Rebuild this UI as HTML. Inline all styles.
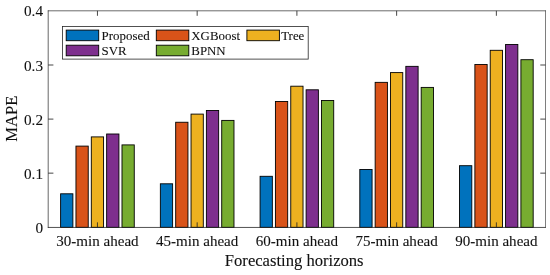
<!DOCTYPE html><html><head><meta charset="utf-8"><title>chart</title><style>html,body{margin:0;padding:0;background:#fff}svg{display:block}text{font-family:"Liberation Serif","DejaVu Serif",serif;fill:#111;stroke:#111;stroke-width:0.1px}</style></head><body>
<svg width="550" height="275" viewBox="0 0 550 275">
<rect width="550" height="275" fill="#fff"/>
<rect x="60.62" y="193.80" width="12.27" height="33.55" fill="#0072BD" stroke="#000" stroke-width="0.9"/>
<rect x="75.96" y="146.10" width="12.27" height="81.25" fill="#D95319" stroke="#000" stroke-width="0.9"/>
<rect x="91.30" y="136.90" width="12.27" height="90.45" fill="#EDB120" stroke="#000" stroke-width="0.9"/>
<rect x="106.65" y="134.00" width="12.27" height="93.35" fill="#7E2F8E" stroke="#000" stroke-width="0.9"/>
<rect x="121.99" y="144.90" width="12.27" height="82.45" fill="#77AC30" stroke="#000" stroke-width="0.9"/>
<rect x="160.35" y="183.80" width="12.27" height="43.55" fill="#0072BD" stroke="#000" stroke-width="0.9"/>
<rect x="175.69" y="122.25" width="12.27" height="105.10" fill="#D95319" stroke="#000" stroke-width="0.9"/>
<rect x="191.03" y="114.10" width="12.27" height="113.25" fill="#EDB120" stroke="#000" stroke-width="0.9"/>
<rect x="206.38" y="110.50" width="12.27" height="116.85" fill="#7E2F8E" stroke="#000" stroke-width="0.9"/>
<rect x="221.72" y="120.40" width="12.27" height="106.95" fill="#77AC30" stroke="#000" stroke-width="0.9"/>
<rect x="260.08" y="176.30" width="12.27" height="51.05" fill="#0072BD" stroke="#000" stroke-width="0.9"/>
<rect x="275.42" y="101.50" width="12.27" height="125.85" fill="#D95319" stroke="#000" stroke-width="0.9"/>
<rect x="290.76" y="86.20" width="12.27" height="141.15" fill="#EDB120" stroke="#000" stroke-width="0.9"/>
<rect x="306.11" y="89.80" width="12.27" height="137.55" fill="#7E2F8E" stroke="#000" stroke-width="0.9"/>
<rect x="321.45" y="100.45" width="12.27" height="126.90" fill="#77AC30" stroke="#000" stroke-width="0.9"/>
<rect x="359.81" y="169.45" width="12.27" height="57.90" fill="#0072BD" stroke="#000" stroke-width="0.9"/>
<rect x="375.15" y="82.35" width="12.27" height="145.00" fill="#D95319" stroke="#000" stroke-width="0.9"/>
<rect x="390.49" y="72.60" width="12.27" height="154.75" fill="#EDB120" stroke="#000" stroke-width="0.9"/>
<rect x="405.84" y="66.35" width="12.27" height="161.00" fill="#7E2F8E" stroke="#000" stroke-width="0.9"/>
<rect x="421.18" y="87.40" width="12.27" height="139.95" fill="#77AC30" stroke="#000" stroke-width="0.9"/>
<rect x="459.54" y="165.70" width="12.27" height="61.65" fill="#0072BD" stroke="#000" stroke-width="0.9"/>
<rect x="474.88" y="64.50" width="12.27" height="162.85" fill="#D95319" stroke="#000" stroke-width="0.9"/>
<rect x="490.22" y="50.30" width="12.27" height="177.05" fill="#EDB120" stroke="#000" stroke-width="0.9"/>
<rect x="505.57" y="44.45" width="12.27" height="182.90" fill="#7E2F8E" stroke="#000" stroke-width="0.9"/>
<rect x="520.91" y="59.70" width="12.27" height="167.65" fill="#77AC30" stroke="#000" stroke-width="0.9"/>
<path d="M48.2 10.4V227.8" stroke="#262626" stroke-width="0.7" fill="none"/>
<path d="M545.5 10.4V227.8" stroke="#262626" stroke-width="0.6" fill="none"/>
<path d="M47.85 10.8H545.8" stroke="#262626" stroke-width="0.68" fill="none"/>
<path d="M47.85 227.45H545.8" stroke="#262626" stroke-width="0.8" fill="none"/>
<path d="M97.44 227.45v-5.1M97.44 10.8v5" stroke="#262626" stroke-width="0.85" fill="none"/>
<text x="97.44" y="246.4" font-size="15.05" text-anchor="middle">30-min ahead</text>
<path d="M197.17 227.45v-5.1M197.17 10.8v5" stroke="#262626" stroke-width="0.85" fill="none"/>
<text x="197.17" y="246.4" font-size="15.05" text-anchor="middle">45-min ahead</text>
<path d="M296.90 227.45v-5.1M296.90 10.8v5" stroke="#262626" stroke-width="0.85" fill="none"/>
<text x="296.90" y="246.4" font-size="15.05" text-anchor="middle">60-min ahead</text>
<path d="M396.63 227.45v-5.1M396.63 10.8v5" stroke="#262626" stroke-width="0.85" fill="none"/>
<text x="396.63" y="246.4" font-size="15.05" text-anchor="middle">75-min ahead</text>
<path d="M496.36 227.45v-5.1M496.36 10.8v5" stroke="#262626" stroke-width="0.85" fill="none"/>
<text x="496.36" y="246.4" font-size="15.05" text-anchor="middle">90-min ahead</text>
<text x="43.0" y="233.15" font-size="15.2" text-anchor="end">0</text>
<path d="M48.2 173.15h5.2M545.5 173.15h-5.2" stroke="#262626" stroke-width="0.85" fill="none"/>
<text x="43.0" y="178.95" font-size="15.2" text-anchor="end">0.1</text>
<path d="M48.2 119.10h5.2M545.5 119.10h-5.2" stroke="#262626" stroke-width="0.85" fill="none"/>
<text x="43.0" y="124.75" font-size="15.2" text-anchor="end">0.2</text>
<path d="M48.2 65.00h5.2M545.5 65.00h-5.2" stroke="#262626" stroke-width="0.85" fill="none"/>
<text x="43.0" y="70.55" font-size="15.2" text-anchor="end">0.3</text>
<text x="43.0" y="16.35" font-size="15.2" text-anchor="end">0.4</text>
<text x="294.2" y="266.1" font-size="16.6" text-anchor="middle">Forecasting horizons</text>
<text transform="translate(17.0 118.7) rotate(-90)" font-size="16.6" text-anchor="middle">MAPE</text>
<rect x="62.5" y="26.5" width="245.7" height="32.6" fill="#fff" stroke="#262626" stroke-width="0.8"/>
<rect x="66.2" y="30.1" width="32.5" height="10.6" fill="#0072BD" stroke="#000" stroke-width="0.9"/>
<text x="101.6" y="39.60" font-size="12.9">Proposed</text>
<rect x="156.3" y="30.1" width="32.5" height="10.6" fill="#D95319" stroke="#000" stroke-width="0.9"/>
<text x="191.3" y="39.60" font-size="12.9">XGBoost</text>
<rect x="246.9" y="30.1" width="32.5" height="10.6" fill="#EDB120" stroke="#000" stroke-width="0.9"/>
<text x="281.2" y="39.60" font-size="12.9">Tree</text>
<rect x="66.2" y="45.2" width="32.5" height="10.6" fill="#7E2F8E" stroke="#000" stroke-width="0.9"/>
<text x="101.6" y="54.70" font-size="12.9">SVR</text>
<rect x="156.3" y="45.2" width="32.5" height="10.6" fill="#77AC30" stroke="#000" stroke-width="0.9"/>
<text x="191.3" y="54.70" font-size="12.9">BPNN</text>
</svg></body></html>
